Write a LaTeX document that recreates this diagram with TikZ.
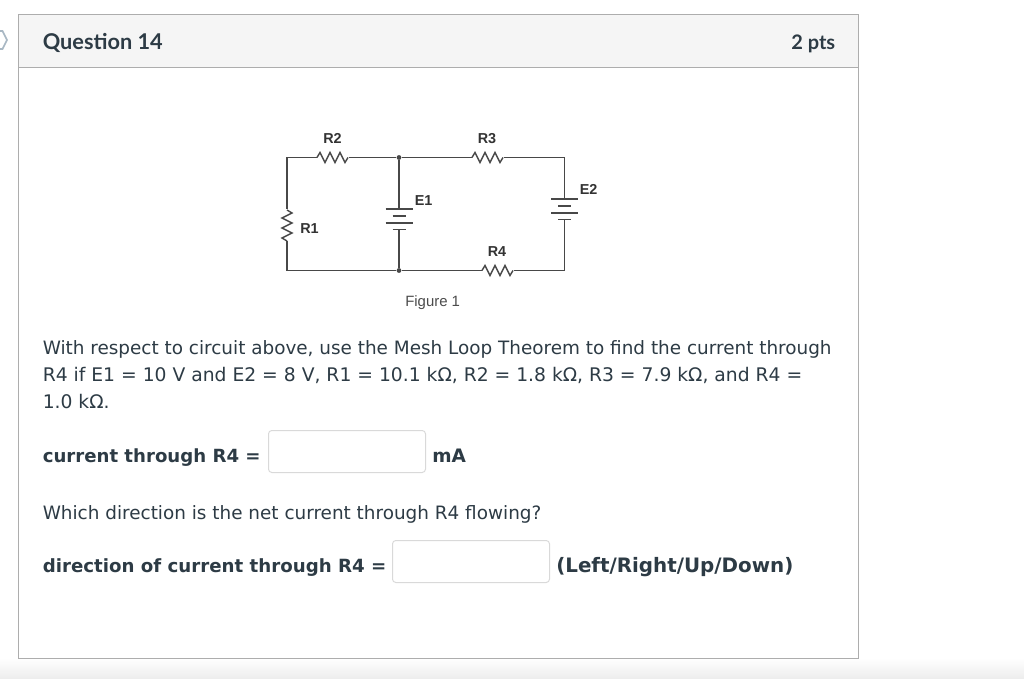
\documentclass[tikz,border=0pt]{standalone}
\usepackage{fontspec}
\setmainfont{DejaVu Sans}
\newfontfamily\headfont{Lato}
\newfontfamily\figfont{Liberation Sans}
\definecolor{inktext}{HTML}{2D3B45}
\definecolor{wire}{HTML}{484848}
\definecolor{frame}{HTML}{ADADAD}
\definecolor{chevron}{HTML}{A9B8C4}
\tikzset{
  body/.style={anchor=base west, inner sep=0pt, text=inktext, font=\fontsize{#1pt}{#1pt}\selectfont},
  strong/.style={anchor=base west, inner sep=0pt, text=inktext, font=\fontsize{#1pt}{#1pt}\selectfont\bfseries},
  label/.style={anchor=base west, inner sep=0pt, text=black!80, font=\figfont\fontsize{10.8pt}{10.8pt}\selectfont\bfseries},
  answer/.style={draw=black!15, fill=white, rounded corners=2.5pt, line width=.75pt},
  wiring/.style={draw=wire, line width=1.05pt},
  junction/.style={circle, fill=wire, inner sep=0pt, minimum size=3.6pt},
  resistor/.pic={\draw[wiring] (-16,0) -- ++(3,-5) -- ++(5,10) -- ++(5,-10) -- ++(5,10) -- ++(5,-10) -- ++(5,10) -- ++(3,-5);},
  cell/.pic={
    \draw[wiring] (-13.5,0) -- (13.5,0) (-6.5,7) -- (6.5,7) (-13.5,14) -- (13.5,14) (-6.5,20.5) -- (6.5,20.5);
  }
}
\begin{document}
\begin{tikzpicture}[x=.75pt,y=-.75pt]
  \useasboundingbox (0,0) rectangle (1024,678);
  % page bottom
  \shade[top color=white, bottom color=black!7] (0,658) rectangle (1024,678);
  % question frame
  \draw[frame, fill=white, line width=.9pt] (18.5,14.5) rectangle (858.5,658.5);
  \draw[frame, fill=black!4, line width=.9pt] (18.5,14.5) rectangle (858.5,67.5);
  \draw[chevron, line width=1.3pt] (0,31) -- (2.5,31) -- (7,40) -- (2.5,49) -- (0,49);
  \node[anchor=base west, inner sep=0pt, text=inktext, font=\headfont\fontsize{16.3pt}{16.3pt}\selectfont\bfseries] (title) at (42.5,49) {Question 14};
  \node[anchor=base east, inner sep=0pt, text=inktext, font=\headfont\fontsize{15pt}{15pt}\selectfont\bfseries] (points) at (835.5,49) {2 pts};
  % circuit corners
  \coordinate (tl) at (287,157.5);
  \coordinate (tr) at (564.5,157.5);
  \coordinate (bl) at (287,270.5);
  \coordinate (br) at (564.5,270.5);
  \node[junction] (top) at (399,157.5) {};
  \node[junction] (bot) at (399,270.5) {};
  \coordinate (r2a) at (317,157.5);
  \coordinate (r2b) at (349,157.5);
  \coordinate (r3a) at (472,157.5);
  \coordinate (r3b) at (504,157.5);
  \coordinate (r4a) at (482,270.5);
  \coordinate (r4b) at (514,270.5);
  \coordinate (r1a) at (287,209);
  \coordinate (r1b) at (287,241);
  \coordinate (e1a) at (399,209);
  \coordinate (e1b) at (399,229.5);
  \coordinate (e2a) at (564.5,199);
  \coordinate (e2b) at (564.5,219.5);
  \draw[wiring] (r1a) -- (tl) -- (r2a) (r2b) -- (top) -- (r3a) (r3b) -- (tr) -- (e2a);
  \draw[wiring] (e2b) -- (br) -- (r4b) (r4a) -- (bot) -- (bl) -- (r1b);
  \draw[wiring] (top) -- (e1a) (e1b) -- (bot);
  \pic at (333,157.5) {resistor};
  \pic at (488,157.5) {resistor};
  \pic at (498,270.5) {resistor};
  \pic[rotate=90] at (287,225) {resistor};
  \pic at (e1a) {cell};
  \pic at (e2a) {cell};
  \node[label] (R2) at (323,143) {R2};
  \node[label] (R3) at (477.5,143) {R3};
  \node[label] (R4) at (487.5,256.5) {R4};
  \node[label] (R1) at (300,233) {R1};
  \node[label] (E1) at (414.5,205.5) {E1};
  \node[label] (E2) at (579.5,194) {E2};
  \node[anchor=base west, inner sep=0pt, text=black!70, font=\figfont\fontsize{11.2pt}{11.2pt}\selectfont] (fig) at (405,306) {Figure 1};
  % question text
  \node[body=13.8] (line1) at (42.5,354) {With respect to circuit above, use the Mesh Loop Theorem to find the current through};
  \node[body=14.05] (line2) at (42.5,381) {R4 if E1 = 10 V and E2 = 8 V, R1 = 10.1 kΩ, R2 = 1.8 kΩ, R3 = 7.9 kΩ, and R4 =};
  \node[body=14.05] (line3) at (42.5,408.5) {1.0 kΩ.};
  \node[strong=13.6] (ask1) at (42.5,462) {current through R4 =};
  \draw[answer] (268.5,430.5) rectangle (425.5,472.5);
  \node[strong=13.9] (unit) at (432,462) {mA};
  \node[body=13.8] (ask2) at (42.5,519) {Which direction is the net current through R4 flowing?};
  \node[strong=13.65] (ask3) at (42.5,572) {direction of current through R4 =};
  \draw[answer] (392.5,540.5) rectangle (549.5,582.5);
  \node[strong=14.9] (hint) at (556,572) {(Left/Right/Up/Down)};
\end{tikzpicture}
\end{document}
